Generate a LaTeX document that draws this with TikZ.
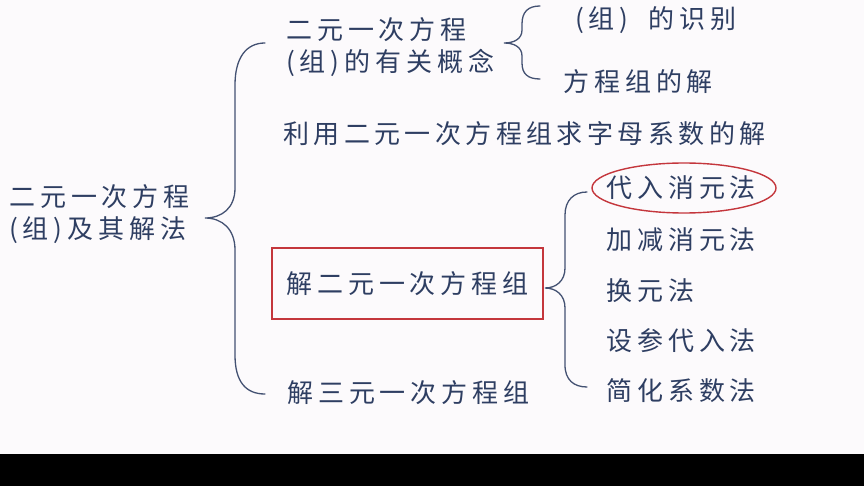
\documentclass[tikz,border=0pt]{standalone}
\usepackage{fontspec}
\newfontfamily\cjk[LetterSpace=19]{Noto Sans CJK SC}
\usepackage{xcolor}
\definecolor{Ink}{RGB}{46,62,98}
\definecolor{Mark}{RGB}{196,54,60}
\definecolor{Paper}{RGB}{252,250,252}
\usepackage{tikz}
\usetikzlibrary{shapes.geometric}
\tikzstyle{Item}=[anchor=west,inner sep=0pt,text=Ink,align=left,
font=\cjk\fontsize{26}{32}\selectfont]
\tikzstyle{Brace}=[draw=Ink!90,line width=1.3pt,line cap=round]
\tikzstyle{Boxed}=[Item,anchor=center,draw=Mark,line width=1.4pt,
minimum width=271pt,minimum height=71pt]
\tikzstyle{Ring}=[draw=Mark,line width=1.4pt]

\begin{document}
\begin{tikzpicture}[x=1pt,y=-1pt]
        \useasboundingbox(0,0)rectangle(864,486);
        \fill[Paper](0,0)rectangle(864,454);
        \fill[black](0,454)rectangle(864,486);
        % root and first level
        \node[Item](r)at(9,214){二元一次方程\\(组)及其解法};
        \node[Item](c1)at(286,47.5){二元一次方程\\(组)的有关概念};
        \node[Item,font=\cjk\addfontfeature{LetterSpace=17}\fontsize{26}{32}\selectfont](c2)at(283,134){利用二元一次方程组求字母系数的解};
        \node[Boxed](c3)at(407.5,283.5){解二元一次方程组};
        \node[Item](c4)at(287,393){解三元一次方程组};
        % second level
        \node[Item](c11)at(575,20){(组)\hspace{20pt}的识别};
        \node[Item](c12)at(563,82){方程组的解};
        \node[Item](c31)at(606,188){代入消元法};
        \node[Item](c32)at(606,240){加减消元法};
        \node[Item](c33)at(606,291){换元法};
        \node[Item](c34)at(606,341){设参代入法};
        \node[Item](c35)at(606,391){简化系数法};
        \draw[Ring](684,188)ellipse[x radius=92,y radius=25];
        % braces
        \coordinate(t0)at(205,218);
        \coordinate(t1)at(504,43);
        \coordinate(t3)at(545,288);
        \draw[Brace](265,43) .. controls (246,43) and (235,58) .. (235,85)
            -- (235,188) .. controls (235,208) and (222,218) .. (t0)
            .. controls (222,218) and (235,229) .. (235,250)
            -- (235,355) .. controls (235,382) and (246,394) .. (265,394);
        \draw[Brace](540,6) .. controls (528,6) and (522,12) .. (522,24)
            -- (522,30) .. controls (522,39) and (514,43) .. (t1)
            .. controls (514,43) and (522,47) .. (522,56)
            -- (522,63) .. controls (522,74) and (528,79) .. (540,79);
        \draw[Brace](587,192) .. controls (574,192) and (565,200) .. (565,215)
            -- (565,268) .. controls (565,281) and (556,288) .. (t3)
            .. controls (556,288) and (565,295) .. (565,308)
            -- (565,365) .. controls (565,380) and (574,387) .. (587,387);
    \end{tikzpicture}
\end{document}
